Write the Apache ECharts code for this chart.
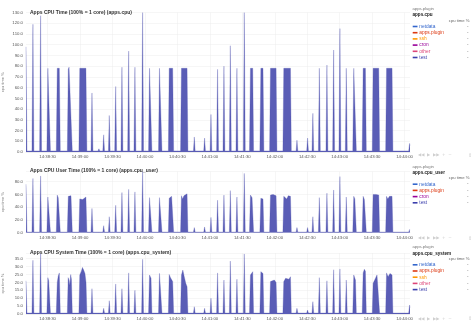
<!DOCTYPE html>
<html><head><meta charset="utf-8">
<script src="https://cdn.jsdelivr.net/npm/echarts@6/dist/echarts.min.js"></script>
<style>html,body{margin:0;padding:0;background:#fff}#c{width:474px;height:326px}</style>
</head><body><div id="c"></div>
<script>
// seconds after 14:38:00, value (cpu time %)
const cpuTotal = [
[10,98],[10.9,1],[15.5,1],[16.4,119],[17.3,1],[22.6,1],[23.5,127],[24.4,1],
[29.3,1],[30.2,78],[31.7,78],[32.6,1],[38.0,1],[38.9,78],[40.8,78],[41.7,1],
[48.2,1],[49.1,77],[49.8,79],[51.6,79],[52.8,1],[58.9,1],[59.7,78],[65.4,78],[66.3,1],
[70.1,1],[71.0,55],[71.9,1],[76.6,1],[77.4,3],[78.2,1],[81.0,1],[81.8,16],[82.6,1],
[86.2,1],[87.0,34],[87.8,1],[92.0,1],[92.9,61],[93.8,1],[97.8,1],[98.7,79],[99.6,1],
[104.0,1],[104.9,94],[105.8,1],[109.8,1],[110.7,79],[111.6,1],[116.9,1],[117.8,130],[118.7,1],
[123.3,1],[124.2,78],[125.6,78],[126.4,1],[132.5,1],[133.4,78],[134.9,78],[135.7,1],
[141.6,1],[142.4,78],[143.2,79],[145.6,78],[146.5,1],[152.9,1],[153.7,78],[158.9,78],[159.7,1],
[164.8,1],[165.6,14],[166.4,1],[174.3,1],[175.1,13],[175.9,1],[180.2,1],[181.0,35],[181.8,1],
[186.2,1],[187.1,77],[188.0,1],[192.1,1],[193.0,80],[193.9,1],[198.0,1],[198.9,99],[199.8,1],
[204.1,1],[205.0,78],[205.9,1],[210.9,1],[211.8,130],[212.7,1],
[216.6,1],[217.5,78],[219.6,78],[220.4,1],[226.2,1],[227.1,78],[229.1,78],[229.9,1],
[235.2,1],[236.0,78],[241.2,78],[242.0,1],[247.5,1],[248.3,78],[249.2,79],[254.5,78],[255.3,1],
[259.7,1],[260.5,11],[261.3,1],[269.5,1],[270.3,13],[271.1,1],[274.4,1],[275.2,36],[276.0,1],
[280.3,1],[281.2,78],[282.1,1],[287.3,1],[288.2,81],[289.1,1],[293.5,1],[294.4,95],[295.3,1],
[299.3,1],[300.2,115],[301.1,1],[305.2,1],[306.1,78],[307.0,1],
[312.1,1],[313.0,78],[314.6,78],[315.4,1],[320.8,1],[321.7,78],[323.8,78],[324.6,1],
[330.1,1],[330.9,78],[336.1,78],[336.9,1],[342.5,1],[343.3,78],[348.4,78],[349.2,1],
[363.8,1],[364.6,8],[365,6]
];
const cpuUser = [
[10,76],[10.9,1],[15.5,1],[16.4,85],[17.3,1],[22.6,1],[23.5,89],[24.4,1],
[29.3,1],[30.2,56],[30.8,58],[31.8,54],[32.6,1],[38.0,1],[38.9,59],[39.8,55],[40.8,56],[41.7,1],
[48.2,1],[49.1,57],[50.2,60],[51.6,58],[52.8,1],
[58.9,1],[59.7,53],[61.0,56],[62.4,52],[64.0,55],[65.4,56],[66.3,1],
[70.1,1],[71.0,38],[71.9,1],[76.6,1],[77.4,2],[78.2,1],[81.0,1],[81.8,11],[82.6,1],
[86.2,1],[87.0,25],[87.8,1],[92.0,1],[92.9,43],[93.8,1],[97.8,1],[98.7,63],[99.6,1],
[104.0,1],[104.9,68],[105.8,1],[109.8,1],[110.7,64],[111.6,1],[116.9,1],[117.8,96],[118.7,1],
[123.3,1],[124.2,55],[125.6,54],[126.4,1],[132.5,1],[133.4,55],[134.3,52],[134.9,54],[135.7,1],
[141.6,1],[142.4,54],[143.6,55],[144.6,57],[145.6,58],[146.5,1],
[152.9,1],[153.7,58],[154.8,53],[156.0,58],[157.5,60],[158.9,61],[159.7,1],
[164.8,1],[165.6,8],[166.4,1],[174.3,1],[175.1,9],[175.9,1],[180.2,1],[181.0,24],[181.8,1],
[186.2,1],[187.1,51],[188.0,1],[192.1,1],[193.0,59],[193.9,1],[198.0,1],[198.9,66],[199.8,1],
[204.1,1],[205.0,56],[205.9,1],[210.9,1],[211.8,93],[212.7,1],
[216.6,1],[217.5,59],[219.0,55],[219.6,56],[220.4,1],[226.2,1],[227.1,54],[229.1,53],[229.9,1],
[235.2,1],[236.0,59],[238.5,60],[241.2,58],[242.0,1],
[247.5,1],[248.3,57],[250.0,58],[251.0,53],[252.5,58],[254.5,57],[255.3,1],
[259.7,1],[260.5,8],[261.3,1],[269.5,1],[270.3,8],[271.1,1],[274.4,1],[275.2,25],[276.0,1],
[280.3,1],[281.2,55],[282.1,1],[287.3,1],[288.2,62],[289.1,1],[293.5,1],[294.4,67],[295.3,1],
[299.3,1],[300.2,88],[301.1,1],[305.2,1],[306.1,56],[307.0,1],
[312.1,1],[313.0,57],[314.0,53],[314.6,52],[315.4,1],[320.8,1],[321.7,57],[322.8,52],[323.8,51],[324.6,1],
[330.1,1],[330.9,60],[333.5,60],[336.1,59],[336.9,1],
[342.5,1],[343.3,57],[344.5,53],[346.0,57],[347.2,54],[348.4,57],[349.2,1],
[363.8,1],[364.6,5],[365,4]
];
const cpuSystem = [
[10,21],[10.9,0.6],[15.5,0.6],[16.4,34],[17.3,0.6],[22.6,0.6],[23.5,38.4],[24.4,0.6],
[29.3,0.6],[30.2,23],[31.0,21],[31.7,20],[32.6,0.6],[38.0,0.6],[38.9,20],[39.8,24],[40.8,26],[41.7,0.6],
[48.2,0.6],[49.0,23],[49.8,21.5],[50.5,18],[51.3,25],[52.0,22],[52.8,0.6],
[58.9,0.6],[59.7,24.7],[61.0,26.8],[62.2,29.5],[63.3,27.8],[64.5,25.7],[65.5,20],[66.3,0.6],
[70.1,0.6],[71.0,16],[71.9,0.6],[76.6,0.6],[77.4,1.5],[78.2,0.6],[81.0,0.6],[81.8,3.6],[82.6,0.6],
[86.2,0.6],[87.0,8.4],[87.8,0.6],[92.0,0.6],[92.9,19],[93.8,0.6],[97.8,0.6],[98.7,16],[99.6,0.6],
[104.0,0.6],[104.9,26],[105.8,0.6],[109.8,0.6],[110.7,15],[111.6,0.6],[116.9,0.6],[117.8,34.6],[118.7,0.6],
[123.3,0.6],[124.2,24.7],[125.6,22.6],[126.4,0.6],[132.5,0.6],[133.4,25.7],[134.9,25],[135.7,0.6],
[141.6,0.6],[142.4,25],[143.6,23],[144.6,22.5],[145.6,20.5],[146.5,0.6],
[152.9,0.6],[153.7,24.7],[155.0,27.8],[156.3,23.6],[157.7,19.4],[158.9,17.3],[159.7,0.6],
[164.8,0.6],[165.6,4.6],[166.4,0.6],[174.3,0.6],[175.1,3.6],[175.9,0.6],[180.2,0.6],[181.0,10],[181.8,0.6],
[186.2,0.6],[187.1,26],[188.0,0.6],[192.1,0.6],[193.0,21.5],[193.9,0.6],[198.0,0.6],[198.9,33.5],[199.8,0.6],
[204.1,0.6],[205.0,22],[205.9,0.6],[210.9,0.6],[211.8,38],[212.7,0.6],
[216.6,0.6],[217.5,24.7],[219.6,26.8],[220.4,0.6],[226.2,0.6],[227.1,26.8],[229.1,25.7],[229.9,0.6],
[235.2,0.6],[236.0,20.5],[237.8,21],[239.6,21.5],[241.2,20],[242.0,0.6],
[247.5,0.6],[248.3,20.5],[250.0,22.6],[251.5,23.6],[253.0,22],[254.5,23.6],[255.3,0.6],
[259.7,0.6],[260.5,3.6],[261.3,0.6],[269.5,0.6],[270.3,2.5],[271.1,0.6],[274.4,0.6],[275.2,7.8],[276.0,0.6],
[280.3,0.6],[281.2,23],[282.1,0.6],[287.3,0.6],[288.2,21],[289.1,0.6],[293.5,0.6],[294.4,28],[295.3,0.6],
[299.3,0.6],[300.2,28.5],[301.1,0.6],[305.2,0.6],[306.1,21.5],[307.0,0.6],
[312.1,0.6],[313.0,24.7],[314.6,21.5],[315.4,0.6],[320.8,0.6],[321.7,26],[322.8,28.3],[323.8,27],[324.6,0.6],
[330.1,0.6],[330.9,19.4],[332.5,20],[334.5,24.7],[336.1,25.7],[336.9,0.6],
[342.5,0.6],[343.3,26],[344.8,23.6],[346.5,25.7],[348.4,24.7],[349.2,0.6],
[363.8,0.6],[364.6,5.7],[365,4]
];
// x tick positions (seconds after 14:38:00) and their labels
const xTickSeconds = [30, 60, 90, 120, 150, 180, 210, 240, 270, 300, 330, 360];
const xTickLabels = ['14:38:30', '14:39:00', '14:39:30', '14:40:00', '14:40:30', '14:41:00',
  '14:41:30', '14:42:00', '14:42:30', '14:43:00', '14:43:30', '14:44:00'];
const titles = [
  'Apps CPU Time (100% = 1 core) (apps.cpu)',
  'Apps CPU User Time (100% = 1 core) (apps.cpu_user)',
  'Apps CPU System Time (100% = 1 core) (apps.cpu_system)'
];
const chartIds = ['apps.cpu', 'apps.cpu_user', 'apps.cpu_system'];
const legend1 = ['netdata', 'apps.plugin', 'ssh', 'cron', 'other', 'test'];
const legend2 = ['netdata', 'apps.plugin', 'cron', 'test'];
const legend3 = ['netdata', 'apps.plugin', 'ssh', 'other', 'test'];
const yMax = [130, 96, 38.6];
const yStep = [10, 20, 5];

const dimColors = {'netdata':'#3366CC','apps.plugin':'#DC3912','ssh':'#FF9900','cron':'#990099','other':'#DD4477','test':'#3B3EAC'};
const FONT = '"Liberation Sans", Arial, sans-serif';

const grids = [
  {left: 26, top: 12.5, width: 384, height: 139.5, outerBoundsMode: 'none', containLabel: false},
  {left: 26, top: 171.5, width: 384, height: 61.2, outerBoundsMode: 'none', containLabel: false},
  {left: 26, top: 253, width: 384, height: 61, outerBoundsMode: 'none', containLabel: false}
];
const panelTops = [9, 166.7, 247.3];
const toolbarY = [155.3, 238.3, 319];
const legends = [legend1, legend2, legend3];
const seriesData = [cpuTotal, cpuUser, cpuSystem];

const graphic = [];
for (let i = 0; i < 3; i++) {
  const t = panelTops[i];
  graphic.push({type:'text', x:412.5, y:t, style:{text:'apps.plugin', fill:'#777', fontSize:4.2, fontFamily:FONT, verticalAlign:'middle'}});
  graphic.push({type:'text', x:412.5, y:t + 6, style:{text:chartIds[i], fill:'#222', fontSize:4.6, fontWeight:'bold', fontFamily:FONT, verticalAlign:'middle'}});
  graphic.push({type:'text', x:469.5, y:t + 11.5, style:{text:'cpu time %', fill:'#666', fontSize:4.2, fontFamily:FONT, align:'right', verticalAlign:'middle'}});
  legends[i].forEach((name, k) => {
    const y = t + 17.5 + k * 6.2;
    graphic.push({type:'rect', shape:{x:412.7, y:y - 0.8, width:4.8, height:1.6}, style:{fill:dimColors[name]}});
    graphic.push({type:'text', x:419.3, y:y, style:{text:name, fill:dimColors[name], fontSize:4.8, fontFamily:FONT, verticalAlign:'middle'}});
    graphic.push({type:'text', x:468.5, y:y, style:{text:'-', fill:'#888', fontSize:4.5, fontFamily:FONT, align:'right', verticalAlign:'middle'}});
  });
  const ty = toolbarY[i];
  graphic.push({type:'text', x:418, y:ty, style:{text:'◀◀  ▶  ▶▶  +  −', fill:'#cfcfcf', fontSize:4.2, fontFamily:'DejaVu Sans', verticalAlign:'middle'}});
  graphic.push({type:'text', x:468, y:ty, style:{text:'⇕', fill:'#cfcfcf', fontSize:5, fontFamily:'DejaVu Sans', verticalAlign:'middle'}});
}

const option = {
  animation: false,
  backgroundColor: '#fff',
  title: titles.map((txt, i) => ({text: txt, left: 25, top: [5.3, 163.5, 245.3][i],
    textStyle: {fontSize: 5, fontWeight: 'bold', color: '#333', fontFamily: FONT}})),
  grid: grids,
  xAxis: grids.map((g, i) => ({
    type: 'value', gridIndex: i, min: 10, max: 365,
    axisLine: {show: true, lineStyle: {color: '#e4e4e4', width: 0.5}},
    axisTick: {show: false, customValues: xTickSeconds},
    axisLabel: {fontSize: 4.3, color: '#555', margin: 3, fontFamily: FONT, customValues: xTickSeconds,
      formatter: v => { const k = xTickSeconds.indexOf(Math.round(v)); return k >= 0 ? xTickLabels[k] : ''; }},
    splitLine: {show: true, lineStyle: {color: '#ececec', width: 0.5}}
  })),
  yAxis: grids.map((g, i) => ({
    type: 'value', gridIndex: i, min: 0, max: yMax[i], interval: yStep[i],
    name: 'cpu time %', nameLocation: 'middle', nameGap: 21.5, nameRotate: 90, nameMoveOverlap: false,
    nameTextStyle: {fontSize: 4, color: '#777', fontFamily: FONT},
    axisLine: {show: false}, axisTick: {show: false},
    axisLabel: {fontSize: 4.3, color: '#555', margin: 3, fontFamily: FONT,
      formatter: v => (Math.abs(v / yStep[i] - Math.round(v / yStep[i])) < 1e-6 ? v.toFixed(1) : '')},
    splitLine: {show: true, lineStyle: {color: '#ececec', width: 0.5}}
  })),
  series: seriesData.map((d, i) => ({
    type: 'line', xAxisIndex: i, yAxisIndex: i, data: d,
    showSymbol: false, symbol: 'none',
    lineStyle: {width: 0.3, color: '#5256b0'},
    areaStyle: {color: '#5a5db6', opacity: 1}
  })),
  graphic: graphic
};
const chart = echarts.init(document.getElementById('c'), null, {renderer: 'canvas'});
chart.setOption(option);
</script></body></html>
